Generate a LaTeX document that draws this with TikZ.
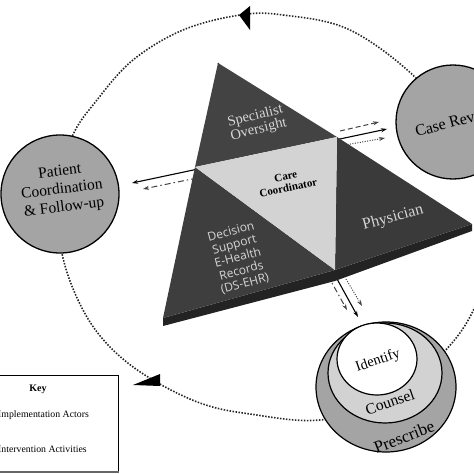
\documentclass[tikz,border=0pt]{standalone}
\usepackage{fontspec}
\setmainfont{Liberation Serif}
\newfontfamily\dsfont{Open Sans}
\usetikzlibrary{shapes.geometric,arrows.meta}
\definecolor{faceA}{HTML}{434343}
\definecolor{faceB}{HTML}{3E3E3E}
\definecolor{faceC}{HTML}{3A3A3A}
\definecolor{faceL}{HTML}{D3D3D3}
\definecolor{band}{HTML}{232323}
\definecolor{circfill}{HTML}{A4A4A4}
\definecolor{counself}{HTML}{D2D2D2}
\definecolor{lighttxt}{HTML}{D6D6D6}
\begin{document}
\begin{tikzpicture}[x=1pt,y=-1pt,
  bubble/.style={circle,draw=black,line width=1.3pt,fill=circfill,inner sep=0pt},
  ring/.style={ellipse,draw=black,line width=1.2pt,inner sep=0pt},
  lbl/.style={align=center,inner sep=0pt},
  flow/.style={line width=1.1pt,-{Stealth[length=6pt,width=4pt]}},
  cyc/.style={line width=1.6pt,dash pattern=on 1.5pt off 1.5pt,black!85}]
\useasboundingbox (0,0) rectangle (474,474);
\clip (0,0) rectangle (474,474);

% dotted cycle
\draw[cyc] plot[smooth cycle,tension=0.6] coordinates {(240,15) (283,15) (350,30) (418,80) (462,140) (485,200) (490,250) (480,295) (452,343) (390,400) (320,420) (250,414) (200,403) (148,377) (110,347) (83,310) (63,258) (56,195) (72,137) (97,100) (133,60) (183,30)};
\fill[black] (239,15) -- (250,6) -- (250,30) -- cycle;
\fill[black] (133,385) -- (160,374) -- (160,386) -- cycle;

% lines passing behind the triangle
\coordinate (hl) at (132,183);
\coordinate (hr) at (387,129);
\draw[line width=1.1pt,{Stealth[length=6pt,width=4pt]}-{Stealth[length=6pt,width=4pt]}] (hl) -- (hr);
\coordinate (vt) at (218,63);
\coordinate (vb) at (358,317);
\draw[flow] (vt) -- (vb);

% triangle
\coordinate (A) at (218,63);
\coordinate (L) at (163,318);
\coordinate (R) at (472,224);
\coordinate (Lm) at (195,167);
\coordinate (Rm) at (337,137);
\coordinate (Bm) at (335,270);
\fill[band] (L) -- (Bm) -- (R) -- (472,231) -- (335,281) -- (163,326) -- cycle;
\fill[faceA] (A) -- (Lm) -- (Rm) -- cycle;
\fill[faceB] (Lm) -- (L) -- (Bm) -- cycle;
\fill[faceC] (Rm) -- (Bm) -- (R) -- cycle;
\fill[faceL] (Lm) -- (Rm) -- (Bm) -- cycle;

\node[lbl,text=lighttxt,rotate=14,font=\fontsize{14.5}{14}\selectfont] (spec) at (257,123) {Specialist\\Oversight};
\node[lbl,rotate=12,font=\bfseries\fontsize{11}{12}\selectfont] (care) at (287,182) {Care\\Coordinator};
\node[lbl,text=lighttxt,rotate=15,font=\fontsize{16}{16}\selectfont] (phys) at (393,218) {Physician};
\node[lbl,text=lighttxt,rotate=15,font=\dsfont\fontsize{12}{13.5}\selectfont] (dsehr) at (238,258) {Decision\\Support\\E-Health\\Records\\(DS-EHR)};

% arrows outside the triangle
\coordinate (dl1) at (197,178); \coordinate (dl2) at (143,189);
\draw[flow,line width=1pt,dash pattern=on 6pt off 3pt on 1.5pt off 3pt,black!75] (dl1) -- (dl2);
\coordinate (ds1) at (340,131); \coordinate (ds2) at (379,122);
\draw[flow,line width=1pt,dash pattern=on 5pt off 3pt,black!75] (ds1) -- (ds2);
\coordinate (dt1) at (345,145); \coordinate (dt2) at (385,138);
\draw[flow,line width=1pt,dash pattern=on 1pt off 1.5pt,black!75] (dt1) -- (dt2);
\coordinate (vd1) at (332,283); \coordinate (vd2) at (347,310);
\draw[flow,line width=1pt,dash pattern=on 1.5pt off 3pt on 6pt off 3pt,black!75] (vd1) -- (vd2);
\coordinate (vo1) at (346,279); \coordinate (vo2) at (362,306);
\draw[flow,line width=1pt,dash pattern=on 1pt off 1.5pt,black!75] (vo1) -- (vo2);

% circles
\node[bubble,minimum size=118pt] (patient) at (60,194) {};
\node[lbl,rotate=7,font=\fontsize{15.5}{18}\selectfont] (patxt) at (62,190) {Patient\\Coordination\\\& Follow-up};
\node[bubble,minimum size=114pt] (case) at (453,122) {};
\node[lbl,rotate=15,font=\fontsize{16}{16}\selectfont] (casetxt) at (456,121) {Case Review};

\node[ring,fill=circfill,minimum width=140pt,minimum height=130pt] (pres) at (386,387) {};
\node[ring,fill=counself,minimum width=114pt,minimum height=100pt] (couns) at (385,373) {};
\node[ring,fill=white,minimum width=80pt,minimum height=72pt] (ident) at (377,359) {};
\node[lbl,rotate=19,font=\fontsize{14.5}{15}\selectfont] (identtxt) at (378,361) {Identify};
\node[lbl,rotate=19,font=\fontsize{15.5}{16}\selectfont] (counstxt) at (390,402) {Counsel};
\node[lbl,rotate=21,font=\fontsize{17}{17}\selectfont] (prestxt) at (404,437) {Prescribe};

% key
\draw[line width=1pt,fill=white] (-20,375) rectangle (118,471);
\draw[line width=2.5pt,black!60] (-20,472) -- (119,472);
\node[lbl,font=\bfseries\fontsize{10}{10}\selectfont] (keytitle) at (38,389) {Key};
\node[lbl,anchor=west,font=\fontsize{9.8}{10}\selectfont] (k1) at (-2,415) {Implementation Actors};
\node[lbl,anchor=west,font=\fontsize{9.8}{10}\selectfont] (k2) at (-2,449) {Intervention Activities};
\end{tikzpicture}
\end{document}
